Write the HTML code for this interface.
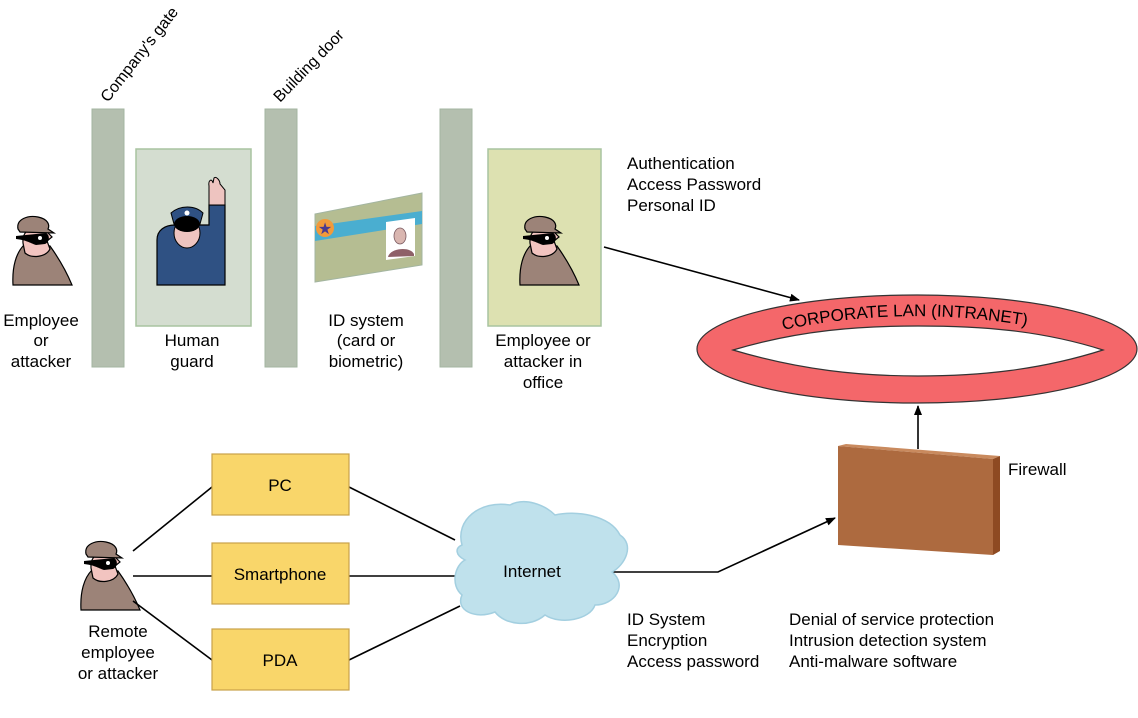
<!DOCTYPE html>
<html><head><meta charset="utf-8"><style>
body{margin:0;background:#fff;}
svg{display:block;font-family:"Liberation Sans",Arial,sans-serif;}
</style></head><body>
<svg width="1138" height="718" viewBox="0 0 1138 718" xmlns="http://www.w3.org/2000/svg">
<defs>
<marker id="ar" markerWidth="10" markerHeight="8" refX="9" refY="4" orient="auto" markerUnits="userSpaceOnUse">
<path d="M0,0 L10,4 L0,8 Z" fill="#000"/></marker>
<g id="thief">
<path d="M3,70 C2,52 6,38 14,30 L40,31 C50,45 57,58 62,70 Z" fill="#9c8378" stroke="#000" stroke-width="1.2"/>
<path d="M13,28 C12,14 24,10 34,14 L42,22 L37,26 L40,34 C36,42 22,44 15,38 Z" fill="#f2c4c0" stroke="#000" stroke-width="1.2"/>
<path d="M6,21 L36,18 C40,20 40,27 35,29 L26,30 C20,28 16,25 6,24 Z" fill="#000"/>
<circle cx="30" cy="23" r="2" fill="#fff"/>
<path d="M8,14 C6,4 18,0 28,2 C38,4 40,10 38,14 L44,18 L10,17 Z" fill="#9c8378" stroke="#000" stroke-width="1.2"/>
</g>
</defs>

<!-- pillars -->
<rect x="92" y="109" width="32" height="258" fill="#b4bfaf" stroke="#a3b6a0"/>
<rect x="265" y="109" width="32" height="258" fill="#b4bfaf" stroke="#a3b6a0"/>
<rect x="440" y="109" width="32" height="258" fill="#b4bfaf" stroke="#a3b6a0"/>
<text transform="translate(108,103) rotate(-52)" font-size="16">Company's gate</text>
<text transform="translate(280,103) rotate(-46)" font-size="16">Building door</text>

<!-- guard box -->
<rect x="136" y="149" width="115" height="177" fill="#d4ddd0" stroke="#a8c4a0" stroke-width="1.5"/>
<path d="M157,285 L157,240 C157,230 165,225 175,225 L209,225 L209,205 L225,205 L225,285 Z" fill="#2f5183" stroke="#000" stroke-width="1.2"/>
<path d="M209,205 L209,186 C208,180 212,178 213,183 L214,178 C216,176 220,180 220,184 L225,190 L225,205 Z" fill="#eec4c0" stroke="#000"/>
<ellipse cx="187" cy="233" rx="13" ry="15" fill="#eec4c0" stroke="#000"/>
<path d="M171,213 C180,205 195,205 203,213 L200,224 C195,220 178,220 174,224 Z" fill="#2f5183" stroke="#000"/>
<ellipse cx="187" cy="224" rx="13" ry="8" fill="#000"/>
<circle cx="187" cy="213" r="2.5" fill="#fff"/>

<!-- card -->
<path d="M315,214 L422,193 L422,265 L315,282 Z" fill="#b5bd92" stroke="#a3b5a0"/>
<path d="M315,226 L422,211 L422,224 L315,241 Z" fill="#4aaed0"/>
<circle cx="325" cy="228" r="9" fill="#f29a3a"/>
<text x="325" y="234" font-size="16" fill="#4a3a90" text-anchor="middle">★</text>
<path d="M386,222 L415,218 L415,256 L386,260 Z" fill="#fff"/>
<ellipse cx="400" cy="236" rx="6" ry="8" fill="#d9b6b0" stroke="#7a5a60" stroke-width=".8"/>
<path d="M388,257 C390,248 410,246 414,254 L414,256 Z" fill="#8e6068"/>

<!-- office -->
<rect x="488" y="149" width="113" height="177" fill="#dde1b1" stroke="#a8c4a0" stroke-width="1.5"/>
<use href="#thief" x="517" y="215"/>
<use href="#thief" x="10" y="215"/>
<use href="#thief" x="78" y="540"/>

<g font-size="17" text-anchor="middle">
<text x="41" y="326">Employee</text><text x="41" y="346">or</text><text x="41" y="367">attacker</text>
<text x="192" y="346">Human</text><text x="192" y="367">guard</text>
<text x="366" y="326">ID system</text><text x="366" y="346">(card or</text><text x="366" y="367">biometric)</text>
<text x="543" y="346">Employee or</text><text x="543" y="367">attacker in</text><text x="543" y="388">office</text>
<text x="118" y="637">Remote</text><text x="118" y="658">employee</text><text x="118" y="679">or attacker</text>
</g>
<g font-size="17">
<text x="627" y="169">Authentication</text><text x="627" y="190">Access Password</text><text x="627" y="211">Personal ID</text>
<text x="1008" y="475">Firewall</text>
<text x="627" y="625">ID System</text><text x="627" y="646">Encryption</text><text x="627" y="667">Access password</text>
<text x="789" y="625">Denial of service protection</text><text x="789" y="646">Intrusion detection system</text><text x="789" y="667">Anti-malware software</text>
</g>

<!-- ring -->
<path fill-rule="evenodd" d="M697,349 A220,54 0 1,0 1137,349 A220,54 0 1,0 697,349 Z M733,350 C800,330 860,326 918,326 C980,326 1040,330 1103,350 C1040,370 980,376 918,376 C860,376 800,370 733,350 Z" fill="#f4676a" stroke="#333" stroke-width="1.2"/>
<path id="arc" d="M760,335 Q905,300 1050,330" fill="none"/>
<text font-size="17"><textPath href="#arc" startOffset="50%" text-anchor="middle">CORPORATE LAN (INTRANET)</textPath></text>

<!-- firewall -->
<path d="M838,446 L846,444 L1000,456 L993,459 Z" fill="#c98a5e"/>
<path d="M993,459 L1000,456 L1000,551 L993,555 Z" fill="#8e4a22"/>
<path d="M838,446 L993,459 L993,555 L838,545 Z" fill="#ad6a3f"/>

<!-- arrows -->
<g stroke="#000" stroke-width="1.6" fill="none">
<line x1="604" y1="247" x2="799" y2="300" marker-end="url(#ar)"/>
<line x1="918" y1="449" x2="918" y2="406" marker-end="url(#ar)"/>
<polyline points="606,572 718,572 835,518" marker-end="url(#ar)"/>
<line x1="133" y1="551" x2="212" y2="487"/>
<line x1="133" y1="576" x2="212" y2="576"/>
<line x1="133" y1="601" x2="212" y2="660"/>
<line x1="349" y1="487" x2="455" y2="540"/>
<line x1="349" y1="576" x2="455" y2="576"/>
<line x1="349" y1="660" x2="460" y2="606"/>
</g>

<!-- boxes -->
<g fill="#f9d66a" stroke="#c8a24a" stroke-width="1.2">
<rect x="212" y="454" width="137" height="61"/>
<rect x="212" y="543" width="137" height="61"/>
<rect x="212" y="629" width="137" height="61"/>
</g>
<g font-size="17" text-anchor="middle">
<text x="280" y="491">PC</text><text x="280" y="580">Smartphone</text><text x="280" y="666">PDA</text>
</g>

<!-- cloud -->
<path d="M462,545 C455,520 480,500 510,505 C525,497 545,505 555,515 C575,510 610,515 620,535 C635,545 625,565 612,572 C628,585 615,605 595,605 C590,620 560,625 545,615 C530,628 505,625 495,612 C475,620 455,610 462,595 C450,585 455,565 465,560 C455,555 455,548 462,545 Z" fill="#bfe1ec" stroke="#a3cfe0" stroke-width="1.5"/>
<text x="532" y="577" font-size="17" text-anchor="middle">Internet</text>
</svg>
</body></html>
